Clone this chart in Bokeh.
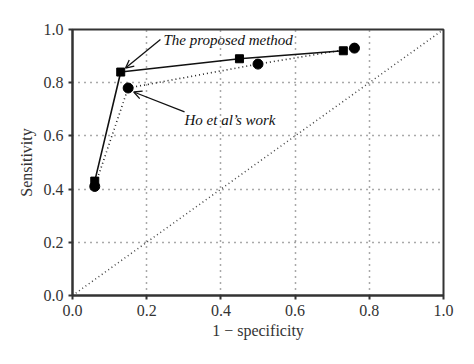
from bokeh.plotting import figure
from bokeh.models import Range1d, FixedTicker, PrintfTickFormatter, Arrow, OpenHead, Label
from bokeh.embed import file_html
from bokeh.resources import INLINE

# Data
fpr_proposed = [0.06, 0.13, 0.45, 0.73]
tpr_proposed = [0.43, 0.84, 0.89, 0.92]
fpr_ho = [0.06, 0.15, 0.50, 0.76]
tpr_ho = [0.41, 0.78, 0.87, 0.93]
chance_x = [0.0, 1.0]
chance_y = [0.0, 1.0]
tick_values = [0.0, 0.2, 0.4, 0.6, 0.8, 1.0]
grid_values = [0.2, 0.4, 0.6, 0.8]

label_proposed = "The proposed method"
label_ho = "Ho et al\u2019s work"
# annotation anchor points (data units)
proposed_text_xy = (0.245, 0.962)
proposed_arrow = (0.237, 0.962, 0.143, 0.855)
ho_text_xy = (0.302, 0.66)
ho_arrow = (0.302, 0.69, 0.165, 0.765)

FONT = "Liberation Serif"
DARK = "#333333"

p = figure(
    output_backend="svg", toolbar_location=None,
    width=458, height=348,
    frame_width=371, frame_height=266,
    min_border_left=72, min_border_right=15, min_border_top=29, min_border_bottom=53,
    x_range=Range1d(0, 1), y_range=Range1d(0, 1),
    background_fill_color="white", border_fill_color="white",
)
p.outline_line_color = DARK
p.outline_line_width = 2

for ax in (p.xaxis, p.yaxis):
    ax.ticker = FixedTicker(ticks=tick_values)
    ax.formatter = PrintfTickFormatter(format="%.1f")
    ax.axis_line_color = DARK
    ax.axis_line_width = 2
    ax.major_tick_line_color = DARK
    ax.major_tick_line_width = 2
    ax.major_tick_out = 4
    ax.major_tick_in = 0
    ax.minor_tick_line_color = None
    ax.major_label_text_font = FONT
    ax.major_label_text_font_size = "16px"
    ax.major_label_text_color = DARK
    ax.axis_label_text_font = FONT
    ax.axis_label_text_font_size = "16px"
    ax.axis_label_text_font_style = "normal"
    ax.axis_label_text_color = DARK
    ax.major_label_standoff = 5

p.xaxis.axis_label = "1 \u2212 specificity"
p.yaxis.axis_label = "Sensitivity"
p.xaxis.axis_label_standoff = 3
p.yaxis.axis_label_standoff = 6

for g in (p.xgrid, p.ygrid):
    g.ticker = FixedTicker(ticks=grid_values)
    g.grid_line_color = "#555555"
    g.grid_line_width = 1.5
    g.grid_line_dash = "1 5"

# chance diagonal
p.line(chance_x, chance_y, line_color="#444444", line_width=1.5, line_dash="1 3")

# Ho et al's work: dotted line with circles
p.line(fpr_ho, tpr_ho, line_color="#222222", line_width=1.6, line_dash="1 3")
p.scatter(fpr_ho, tpr_ho, marker="circle", size=10, fill_color="black", line_color="black")

# proposed method: solid line with squares
p.line(fpr_proposed, tpr_proposed, line_color="#111111", line_width=1.6)
p.scatter(fpr_proposed, tpr_proposed, marker="square", size=8, fill_color="black", line_color="black")

# annotations
p.add_layout(Arrow(end=OpenHead(size=8, line_color="#111111", line_width=1.3),
                   x_start=proposed_arrow[0], y_start=proposed_arrow[1],
                   x_end=proposed_arrow[2], y_end=proposed_arrow[3],
                   line_color="#111111", line_width=1.3))
p.add_layout(Arrow(end=OpenHead(size=8, line_color="#111111", line_width=1.3),
                   x_start=ho_arrow[0], y_start=ho_arrow[1],
                   x_end=ho_arrow[2], y_end=ho_arrow[3],
                   line_color="#111111", line_width=1.3))
p.add_layout(Label(x=proposed_text_xy[0], y=proposed_text_xy[1], text=label_proposed,
                   text_font=FONT, text_font_style="italic", text_font_size="15px",
                   text_color="#111111", text_baseline="middle"))
p.add_layout(Label(x=ho_text_xy[0], y=ho_text_xy[1], text=label_ho,
                   text_font=FONT, text_font_style="italic", text_font_size="15px",
                   text_color="#111111", text_baseline="middle"))

open("out.html", "w").write(file_html(p, INLINE))
